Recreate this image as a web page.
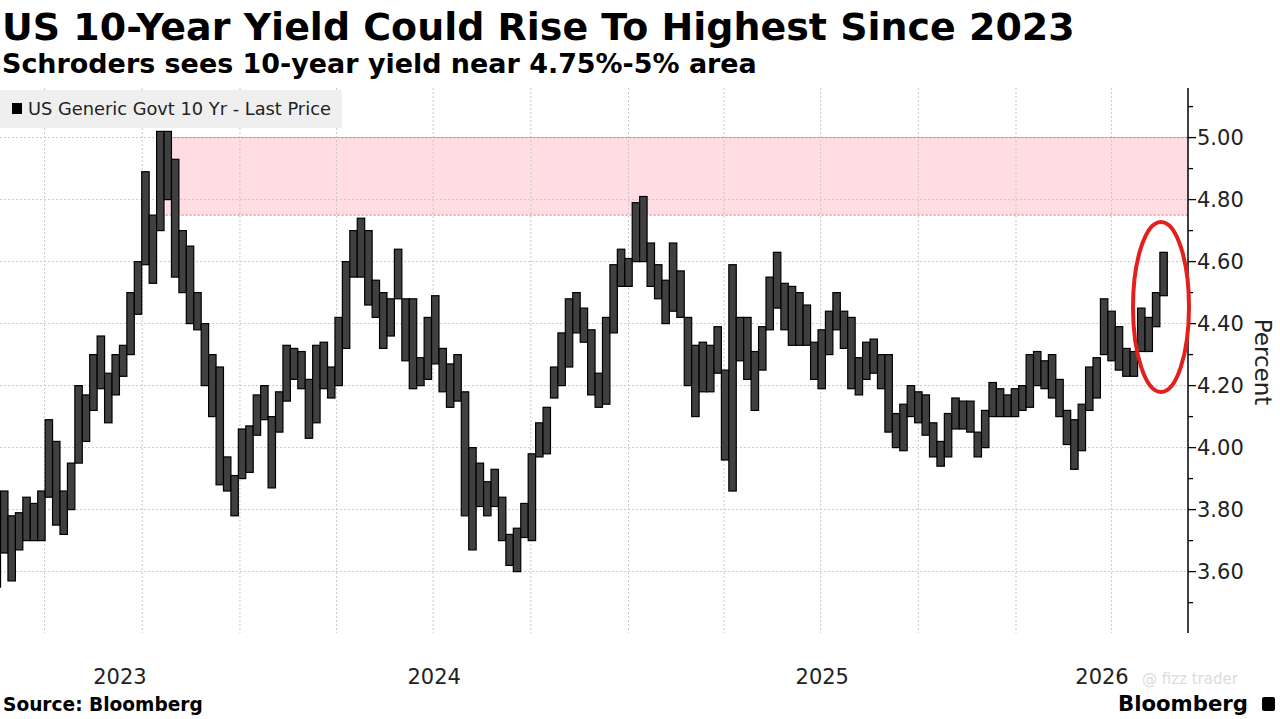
<!DOCTYPE html>
<meta charset="utf-8" />
<style>
  html,
  body {
    margin: 0;
    padding: 0;
    background: #fff;
    overflow: hidden;
  }
  svg text {
    font-family: 'DejaVu Sans', Verdana, sans-serif;
  }
</style>
<script src="https://d3js.org/d3.v7.min.js"></script>
<div id="chart"></div>
<script>
  // weekly bars, first week starts on this Monday
  const firstWeek = '2023-05-15';

  // weekly high / low of the 10y yield (percent)
  const weekHigh = [
    3.70, 3.86, 3.78, 3.79, 3.84, 3.82, 3.86, 4.09, 4.02, 3.86, 3.95,
    4.20, 4.17, 4.30, 4.36, 4.24, 4.30, 4.33, 4.50, 4.60, 4.89, 4.75,
    5.02, 5.02, 4.93, 4.70, 4.65, 4.50, 4.40, 4.30, 4.26, 3.97, 3.91,
    4.06, 4.07, 4.17, 4.20, 4.10, 4.18, 4.33, 4.32, 4.31, 4.22, 4.33,
    4.34, 4.26, 4.42, 4.60, 4.70, 4.74, 4.70, 4.54, 4.50, 4.48, 4.64,
    4.48, 4.48, 4.29, 4.42, 4.49, 4.32, 4.27, 4.30, 4.18, 4.00, 3.95,
    3.89, 3.93, 3.84, 3.72, 3.74, 3.82, 3.98, 4.08, 4.13, 4.26, 4.37,
    4.48, 4.50, 4.45, 4.38, 4.24, 4.42, 4.59, 4.64, 4.61, 4.79, 4.81,
    4.66, 4.59, 4.54, 4.66, 4.57, 4.42, 4.33, 4.34, 4.33, 4.39, 4.25,
    4.59, 4.42, 4.42, 4.31, 4.39, 4.55, 4.63, 4.53, 4.52, 4.50, 4.46,
    4.34, 4.38, 4.44, 4.50, 4.44, 4.42, 4.29, 4.34, 4.35, 4.30, 4.30,
    4.11, 4.14, 4.20, 4.18, 4.17, 4.08, 4.02, 4.11, 4.16, 4.15, 4.15,
    4.05, 4.12, 4.21, 4.19, 4.17, 4.19, 4.20, 4.30, 4.31, 4.28, 4.30,
    4.22, 4.12, 4.09, 4.14, 4.26, 4.29, 4.48, 4.44, 4.39, 4.32, 4.31,
    4.45, 4.42, 4.50, 4.63,
  ];
  const weekLow = [
    3.55, 3.66, 3.57, 3.67, 3.70, 3.70, 3.70, 3.84, 3.75, 3.72, 3.80,
    3.95, 4.02, 4.12, 4.19, 4.08, 4.17, 4.23, 4.30, 4.43, 4.59, 4.53,
    4.70, 4.80, 4.55, 4.50, 4.40, 4.38, 4.20, 4.10, 3.88, 3.86, 3.78,
    3.90, 3.92, 4.04, 4.09, 3.87, 4.05, 4.15, 4.22, 4.19, 4.03, 4.08,
    4.19, 4.16, 4.20, 4.32, 4.55, 4.55, 4.46, 4.42, 4.32, 4.36, 4.48,
    4.28, 4.19, 4.20, 4.22, 4.27, 4.18, 4.13, 4.15, 3.78, 3.67, 3.81,
    3.78, 3.81, 3.70, 3.62, 3.60, 3.71, 3.70, 3.97, 3.98, 4.16, 4.20,
    4.26, 4.37, 4.34, 4.17, 4.13, 4.14, 4.37, 4.52, 4.52, 4.60, 4.60,
    4.52, 4.48, 4.40, 4.44, 4.42, 4.20, 4.10, 4.18, 4.18, 4.24, 3.96,
    3.86, 4.28, 4.22, 4.12, 4.25, 4.38, 4.45, 4.38, 4.33, 4.33, 4.33,
    4.22, 4.19, 4.30, 4.38, 4.32, 4.19, 4.17, 4.22, 4.24, 4.19, 4.05,
    4.00, 3.99, 4.10, 4.08, 4.04, 3.97, 3.94, 3.97, 4.06, 4.06, 4.05,
    3.97, 4.00, 4.10, 4.10, 4.10, 4.10, 4.12, 4.13, 4.20, 4.19, 4.16,
    4.10, 4.01, 3.93, 3.99, 4.12, 4.16, 4.30, 4.28, 4.25, 4.23, 4.23,
    4.31, 4.31, 4.39, 4.49,
  ];

  const xDomain = ['2023-05-20', '2026-06-12'];
  const yDomain = [3.402, 5.16];
  const yLabels = [3.6, 3.8, 4.0, 4.2, 4.4, 4.6, 4.8, 5.0];
  const yMinor = [3.5, 3.7, 3.9, 4.1, 4.3, 4.5, 4.7, 4.9, 5.1];
  const yearLabels = ['2023', '2024', '2025', '2026'];
  const targetBand = { from: 4.75, to: 5.0, start: '2023-10-23' };

  const W = 1280;
  const H = 719;
  const plot = { left: 0, right: 1188, top: 88, bottom: 633 };

  const parse = d3.timeParse('%Y-%m-%d');
  const start = parse(firstWeek);
  const bars = weekHigh.map((h, i) => ({
    date: d3.timeDay.offset(d3.timeWeek.offset(start, i), 2),
    high: h,
    low: weekLow[i],
  }));

  const x = d3
    .scaleTime()
    .domain(xDomain.map(parse))
    .range([plot.left, plot.right]);
  const y = d3
    .scaleLinear()
    .domain(yDomain)
    .range([plot.bottom, plot.top]);

  const svg = d3
    .select('#chart')
    .append('svg')
    .attr('width', W)
    .attr('height', H);

  // fit a text element to a target width
  function fitText(sel, width) {
    const len = sel.node().getComputedTextLength();
    const size = parseFloat(sel.attr('font-size'));
    sel.attr('font-size', (size * width) / len);
  }

  // titles
  svg
    .append('text')
    .attr('x', 2)
    .attr('y', 40)
    .attr('font-size', 36)
    .attr('font-weight', 'bold')
    .attr('fill', '#000')
    .text('US 10-Year Yield Could Rise To Highest Since 2023')
    .call(fitText, 1073);

  svg
    .append('text')
    .attr('x', 2)
    .attr('y', 73)
    .attr('font-size', 24)
    .attr('font-weight', 'bold')
    .attr('fill', '#000')
    .text('Schroders sees 10-year yield near 4.75%-5% area')
    .call(fitText, 755);

  svg
    .append('clipPath')
    .attr('id', 'plotclip')
    .append('rect')
    .attr('x', plot.left)
    .attr('y', plot.top)
    .attr('width', plot.right - plot.left)
    .attr('height', plot.bottom - plot.top);

  // target band
  svg
    .append('rect')
    .attr('x', x(parse(targetBand.start)))
    .attr('y', y(targetBand.to))
    .attr('width', plot.right - x(parse(targetBand.start)))
    .attr('height', y(targetBand.from) - y(targetBand.to))
    .attr('fill', '#ffdde3');

  // grid
  const grid = svg.append('g').attr('clip-path', 'url(#plotclip)');
  grid
    .selectAll('line.h')
    .data(yLabels)
    .join('line')
    .attr('x1', plot.left)
    .attr('x2', plot.right)
    .attr('y1', (d) => y(d))
    .attr('y2', (d) => y(d))
    .attr('stroke', '#c8c8c8')
    .attr('stroke-width', 1)
    .attr('stroke-dasharray', '2,2');

  const quarters = d3.timeMonth
    .every(3)
    .range(x.domain()[0], x.domain()[1]);
  grid
    .selectAll('line.v')
    .data(quarters)
    .join('line')
    .attr('x1', (d) => x(d))
    .attr('x2', (d) => x(d))
    .attr('y1', plot.top)
    .attr('y2', plot.bottom)
    .attr('stroke', '#c8c8c8')
    .attr('stroke-width', 1)
    .attr('stroke-dasharray', '2,2');

  // band edges
  [targetBand.from, targetBand.to].forEach((v) => {
    svg
      .append('line')
      .attr('x1', x(parse(targetBand.start)))
      .attr('x2', plot.right)
      .attr('y1', y(v))
      .attr('y2', y(v))
      .attr('stroke', '#c9707f')
      .attr('stroke-width', 1)
      .attr('stroke-dasharray', '2,2');
  });

  // legend
  svg
    .append('rect')
    .attr('x', 0)
    .attr('y', 90)
    .attr('width', 342)
    .attr('height', 38)
    .attr('fill', '#efefef');
  svg
    .append('rect')
    .attr('x', 12)
    .attr('y', 103)
    .attr('width', 10)
    .attr('height', 11)
    .attr('fill', '#000');
  svg
    .append('text')
    .attr('x', 28)
    .attr('y', 115)
    .attr('font-size', 17)
    .attr('fill', '#222')
    .text('US Generic Govt 10 Yr - Last Price')
    .call(fitText, 303);

  // weekly high-low bars, each one week wide
  const step = x(d3.timeWeek.offset(start, 1)) - x(start);
  svg
    .append('g')
    .attr('clip-path', 'url(#plotclip)')
    .selectAll('rect')
    .data(bars)
    .join('rect')
    .attr('x', (d) => x(d.date) - step / 2)
    .attr('y', (d) => y(d.high))
    .attr('width', step)
    .attr('height', (d) => y(d.low) - y(d.high))
    .attr('fill', '#404040')
    .attr('stroke', '#000')
    .attr('stroke-width', 1.2);

  // right axis
  const axis = svg.append('g');
  axis
    .append('line')
    .attr('x1', plot.right)
    .attr('x2', plot.right)
    .attr('y1', plot.top)
    .attr('y2', plot.bottom)
    .attr('stroke', '#000')
    .attr('stroke-width', 1.5);
  axis
    .selectAll('line.major')
    .data(yLabels)
    .join('line')
    .attr('x1', plot.right)
    .attr('x2', plot.right + 8)
    .attr('y1', (d) => y(d))
    .attr('y2', (d) => y(d))
    .attr('stroke', '#000')
    .attr('stroke-width', 1.3);
  axis
    .selectAll('line.minor')
    .data(yMinor)
    .join('line')
    .attr('x1', plot.right)
    .attr('x2', plot.right + 5)
    .attr('y1', (d) => y(d))
    .attr('y2', (d) => y(d))
    .attr('stroke', '#000')
    .attr('stroke-width', 1.3);
  axis
    .selectAll('text')
    .data(yLabels)
    .join('text')
    .attr('x', plot.right + 9)
    .attr('y', (d) => y(d) + 7.5)
    .attr('font-size', 21)
    .attr('fill', '#222')
    .text((d) => d3.format('.2f')(d));

  svg
    .append('text')
    .attr('transform', 'translate(1255,362) rotate(90)')
    .attr('text-anchor', 'middle')
    .attr('font-size', 23)
    .attr('fill', '#222')
    .text('Percent');

  // year labels, centred on the visible part of each year
  svg
    .selectAll('text.year')
    .data(yearLabels)
    .join('text')
    .attr('x', (d) => {
      const a = Math.max(x(new Date(+d, 0, 1)), plot.left);
      const b = Math.min(x(new Date(+d + 1, 0, 1)), plot.right);
      return (a + b) / 2;
    })
    .attr('y', 684)
    .attr('text-anchor', 'middle')
    .attr('font-size', 21)
    .attr('fill', '#222')
    .text((d) => d);

  // red ellipse highlight
  svg
    .append('ellipse')
    .attr('cx', 1161)
    .attr('cy', 307)
    .attr('rx', 28)
    .attr('ry', 85)
    .attr('fill', 'none')
    .attr('stroke', '#e2201c')
    .attr('stroke-width', 4);

  // footer
  svg
    .append('text')
    .attr('x', 3)
    .attr('y', 711)
    .attr('font-size', 18)
    .attr('font-weight', 'bold')
    .attr('fill', '#000')
    .text('Source: Bloomberg')
    .call(fitText, 200);

  svg
    .append('text')
    .attr('x', 1142)
    .attr('y', 684)
    .attr('font-size', 15)
    .attr('fill', '#dcdcdc')
    .text('@ fizz trader');

  svg
    .append('text')
    .attr('x', 1118)
    .attr('y', 711)
    .attr('font-size', 22)
    .attr('font-weight', 'bold')
    .attr('fill', '#000')
    .text('Bloomberg')
    .call(fitText, 130);
  svg
    .append('rect')
    .attr('x', 1262)
    .attr('y', 697)
    .attr('width', 13)
    .attr('height', 14)
    .attr('rx', 2)
    .attr('fill', '#000');
</script>
